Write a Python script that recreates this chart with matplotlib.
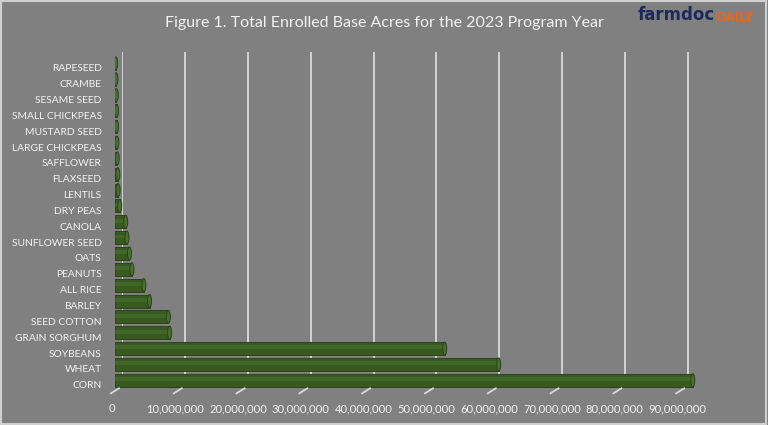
import numpy as np
import matplotlib.pyplot as plt
from matplotlib.patches import Rectangle, Ellipse
from matplotlib.transforms import ScaledTranslation

# ---------------------------------------------------------------
# Data: total enrolled base acres, 2023 program year
# ---------------------------------------------------------------
crops = ["CORN", "WHEAT", "SOYBEANS", "GRAIN SORGHUM", "SEED COTTON",
         "BARLEY", "ALL RICE", "PEANUTS", "OATS", "SUNFLOWER SEED",
         "CANOLA", "DRY PEAS", "LENTILS", "FLAXSEED", "SAFFLOWER",
         "LARGE CHICKPEAS", "MUSTARD SEED", "SMALL CHICKPEAS",
         "SESAME SEED", "CRAMBE", "RAPESEED"]
acres = [92.0e6, 61.1e6, 52.5e6, 8.7e6, 8.5e6,
         5.5e6, 4.6e6, 2.7e6, 2.3e6, 1.9e6,
         1.7e6, 0.75e6, 0.5e6, 0.45e6, 0.35e6,
         0.3e6, 0.25e6, 0.25e6, 0.2e6, 0.15e6, 0.1e6]
x_ticks = np.arange(0, 100e6, 10e6)
x_tick_labels = ["0"] + [f"{int(v):,}" for v in x_ticks[1:]]

BG = "#808080"
TXT = "#F2F2F2"
GRID = "#D9D9D9"
BAR = "#385a20"
BAR_HI = "#47702c"
BAR_EDGE = "#2a4319"

plt.rcParams["font.family"] = ["Lato", "DejaVu Sans"]

W, H = 768, 425
fig = plt.figure(figsize=(W / 100, H / 100), dpi=100, facecolor=BG)

XMAX = 95e6
px_per_unit = 62.8 / 10e6
ax_w = XMAX * px_per_unit

# back wall: only the vertical gridlines (3D depth offset)
ax_back = fig.add_axes([122.3 / W, (H - 386) / H, ax_w / W, (386 - 51.7) / H])
ax_back.set_xlim(0, XMAX)
ax_back.set_facecolor(BG)
for v in x_ticks:
    ax_back.axvline(v, color=GRID, lw=1.3)
ax_back.axis("off")

# front: the cylinders and labels
bottom_px, top_px = 389.8, 53.8
ax = fig.add_axes([115 / W, (H - bottom_px) / H, ax_w / W, (bottom_px - top_px) / H])
ax.patch.set_alpha(0)
ax.set_xlim(0, XMAX)
ax.set_ylim(-0.6, len(crops) - 0.4)
for s in ax.spines.values():
    s.set_visible(False)

h = 0.82
cap_w = 4 / px_per_unit
for i, v in enumerate(acres):
    ax.add_patch(Rectangle((0, i - h / 2), v, h, facecolor=BAR,
                           edgecolor=BAR_EDGE, lw=0.7, zorder=2))
    ax.add_patch(Rectangle((0, i - 0.05), v, h * 0.3, facecolor=BAR_HI,
                           edgecolor="none", alpha=0.6, zorder=3))
    ax.add_patch(Ellipse((v, i), cap_w, h, facecolor=BAR_HI,
                         edgecolor=BAR_EDGE, lw=0.7, zorder=4))

# floor tick slashes
dx = lambda px: px / px_per_unit
dy = lambda px: px / (bottom_px - top_px)
for v in x_ticks:
    ax.plot([v - dx(4), v + dx(4)], [-dy(3.5), dy(1.5)], color=GRID, lw=1.3,
            transform=ax.get_xaxis_transform(), clip_on=False)

ax.set_yticks(range(len(crops)))
ax.set_yticklabels(crops)
ax.set_xticks(x_ticks)
ax.set_xticklabels(x_tick_labels)
ax.tick_params(axis="y", length=0, pad=9.6, labelsize=7.4, labelcolor=TXT)
ax.tick_params(axis="x", length=0, pad=9.6, labelsize=8.1, labelcolor=TXT)
for lab in ax.get_yticklabels():
    lab.set_transform(lab.get_transform() + ScaledTranslation(0, -0.045, fig.dpi_scale_trans))
for lab in ax.get_xticklabels():
    lab.set_transform(lab.get_transform() + ScaledTranslation(-0.027, 0, fig.dpi_scale_trans))

fig.text(0.5, 1 - 22.7 / H, "Figure 1. Total Enrolled Base Acres for the 2023 Program Year",
         ha="center", va="center", color=TXT, fontsize=11.5)

logo = fig.text(638 / W, 1 - 20 / H, "farmdoc", ha="left", va="baseline",
                color="#1b2a5a", fontsize=12, fontweight="bold", family="DejaVu Sans")
ax.annotate("DAILY", xy=(1.0, 0), xycoords=logo, xytext=(1, 0), textcoords="offset points",
            va="bottom", ha="left", color="#e8651a", fontsize=8.5, fontweight="bold",
            family="DejaVu Sans", annotation_clip=False)

# light frame round the picture
fig.add_artist(Rectangle((0.001, 0.002), 0.997, 0.996, transform=fig.transFigure,
                         fill=False, edgecolor="#d0d0d0", lw=1.5))

fig.savefig("out.png", dpi=100, facecolor=BG)
